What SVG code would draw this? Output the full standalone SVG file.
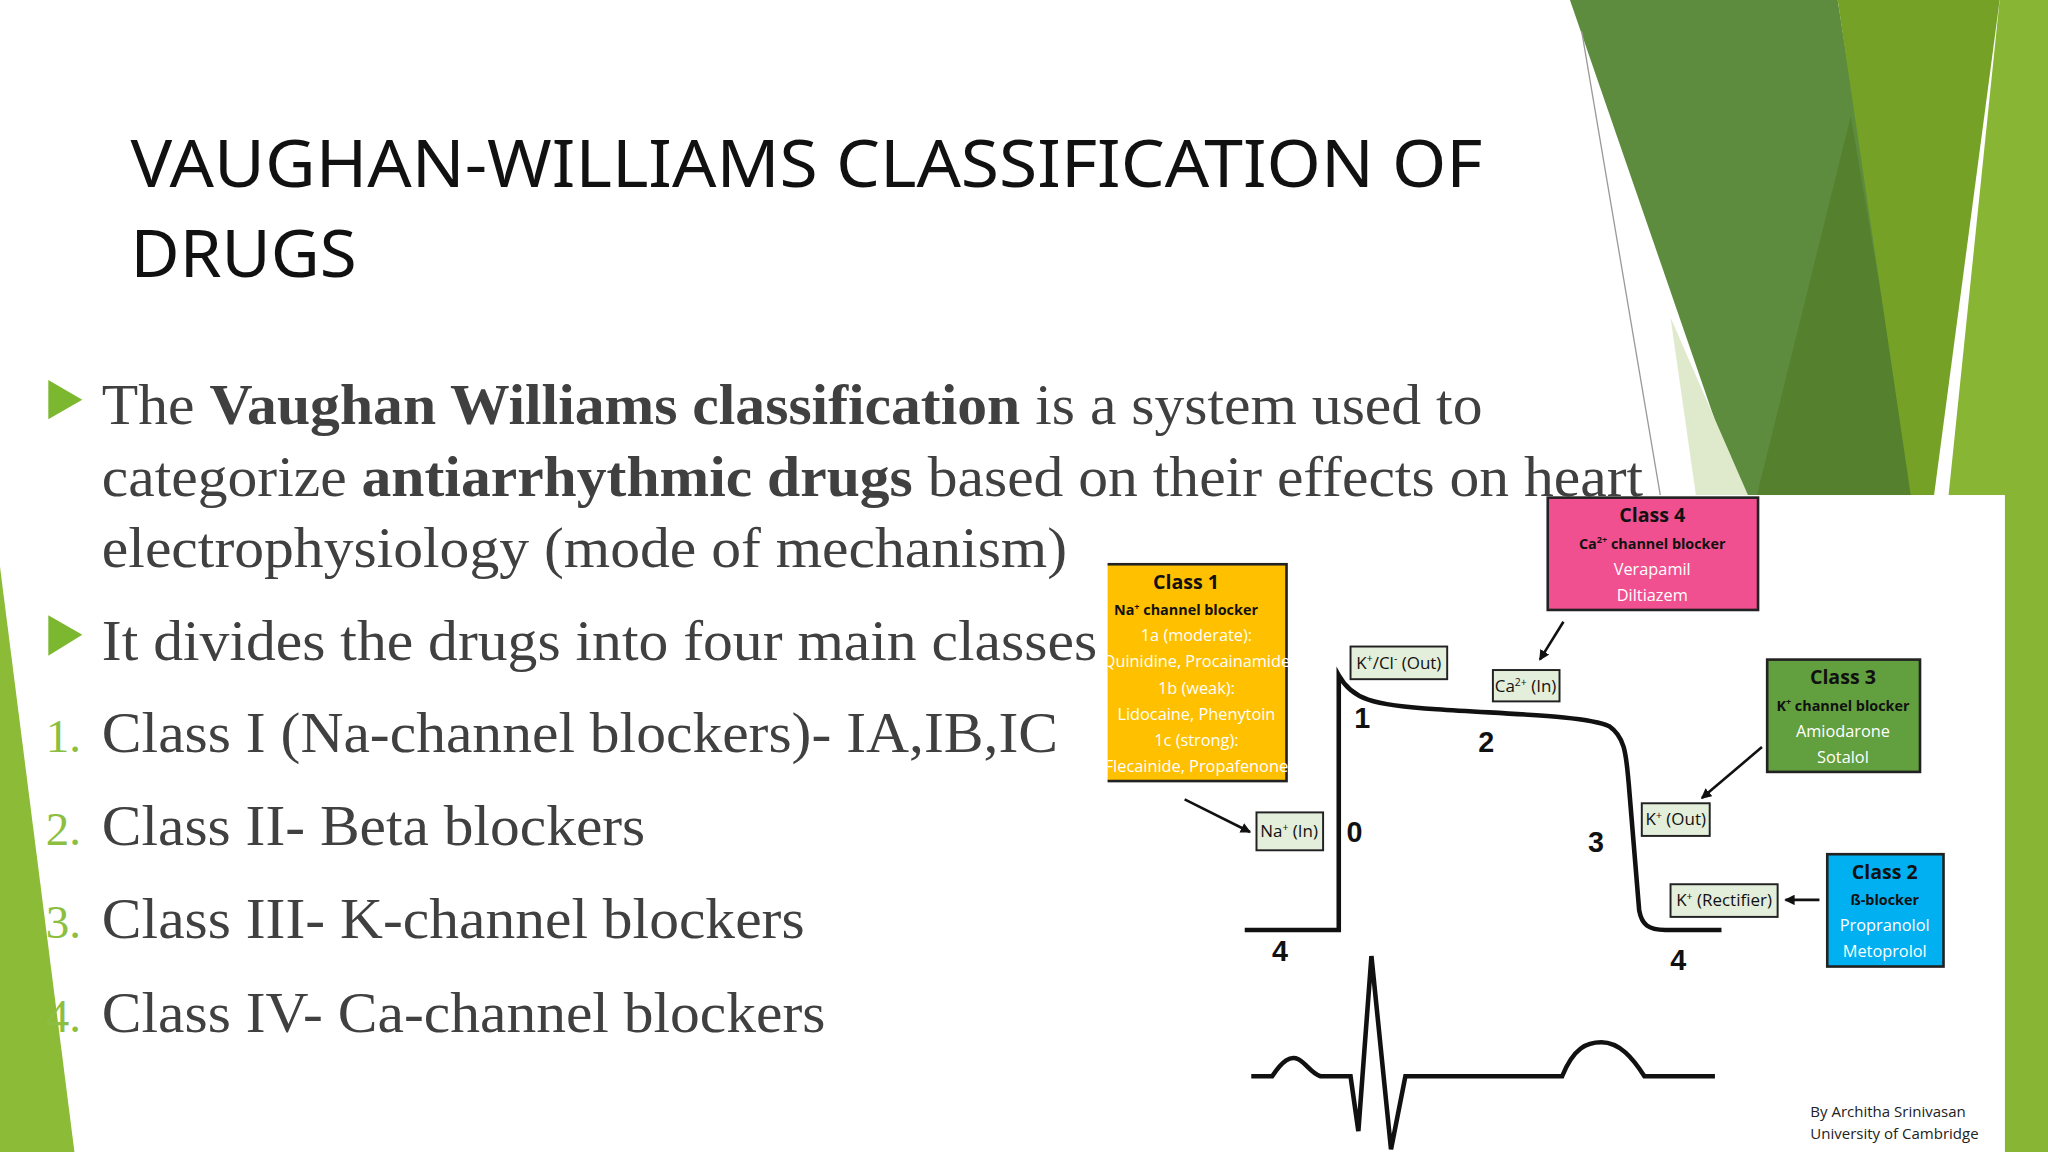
<svg xmlns="http://www.w3.org/2000/svg" width="2048" height="1152" viewBox="0 0 2048 1152">
<defs>
<style>
.body{font-family:"Liberation Serif","Times New Roman",serif;font-size:44px;fill:#404040}
.num{font-family:"Liberation Serif",serif;font-size:36px;fill:#8cbf3f}
.title{font-family:"Noto Sans","DejaVu Sans",sans-serif;font-size:50px;fill:#111}
.c{font-family:"Open Sans","Noto Sans",sans-serif;text-anchor:middle}
.ct{font-size:15px;font-weight:bold;fill:#111}
.cs{font-size:11px;font-weight:bold;fill:#111}
.cd{font-size:12.5px;fill:#fff}
.sb{fill:#e3eedb;stroke:#222;stroke-width:1.5}
.sl{font-family:"Open Sans","Noto Sans",sans-serif;font-size:13px;fill:#111;text-anchor:middle}
.ph{font-family:"Liberation Sans",Arial,sans-serif;font-size:22px;font-weight:bold;fill:#111;text-anchor:middle}
.ln{fill:none;stroke:#111;stroke-width:3.5}
.ar{stroke:#111;stroke-width:2;marker-end:url(#ah)}
</style>
<marker id="ah" markerWidth="8" markerHeight="8" refX="7" refY="4" orient="auto" markerUnits="userSpaceOnUse"><path d="M0,0 L8,4 L0,8 z" fill="#111"/></marker>
<clipPath id="clip1"><rect x="848" y="430" width="140" height="172"/></clipPath>
</defs>
<rect width="2048" height="1152" fill="#fff"/>
<g transform="scale(1.306122)">
<g id="background">
<polygon points="1202,0 1407,0 1470,400 1340,400" fill="#5e8c3e"/>
<polygon points="1417,89 1470,400 1340,400" fill="#55812f"/>
<polygon points="1407,0 1531,0 1478,400 1466,400" fill="#75a226"/>
<polygon points="1531,0 1568,0 1568,882 1440,882" fill="#88b534"/>
<polygon points="1279,243 1340,383 1299,383" fill="#dfe9cc"/>
<line x1="1211" y1="24" x2="1273" y2="390" stroke="#999" stroke-width="1"/>
<polygon points="0,434 57,882 0,882" fill="#8cbb38"/>
</g>
<rect id="panel" x="848" y="379" width="687" height="503" fill="#fff"/>
<g id="title">
<text class="title" x="100" y="143" textLength="1035" lengthAdjust="spacingAndGlyphs">VAUGHAN-WILLIAMS CLASSIFICATION OF</text>
<text class="title" x="100" y="212" textLength="173" lengthAdjust="spacingAndGlyphs">DRUGS</text>
</g>
<g id="bullets">
<polygon points="37,291 63,306 37,321" fill="#7cb82f"/>
<polygon points="37,471 63,486 37,502" fill="#7cb82f"/>
<text class="body" x="78" y="325" textLength="1057" lengthAdjust="spacingAndGlyphs">The <tspan font-weight="bold">Vaughan Williams classification</tspan> is a system used to</text>
<text class="body" x="78" y="380" textLength="1180" lengthAdjust="spacingAndGlyphs">categorize <tspan font-weight="bold">antiarrhythmic drugs</tspan> based on their effects on heart</text>
<text class="body" x="78" y="434" textLength="739" lengthAdjust="spacingAndGlyphs">electrophysiology (mode of mechanism)</text>
<text class="body" x="78" y="505" textLength="762" lengthAdjust="spacingAndGlyphs">It divides the drugs into four main classes</text>
<text class="num" x="35" y="576">1.</text>
<text class="body" x="78" y="576" textLength="732" lengthAdjust="spacingAndGlyphs">Class I (Na-channel blockers)- IA,IB,IC</text>
<text class="num" x="35" y="647">2.</text>
<text class="body" x="78" y="647" textLength="416" lengthAdjust="spacingAndGlyphs">Class II- Beta blockers</text>
<text class="num" x="35" y="718">3.</text>
<text class="body" x="78" y="718" textLength="538" lengthAdjust="spacingAndGlyphs">Class III- K-channel blockers</text>
<text class="num" x="35" y="790">4.</text>
<text class="body" x="78" y="790" textLength="554" lengthAdjust="spacingAndGlyphs">Class IV- Ca-channel blockers</text>
</g>
<g id="class1" clip-path="url(#clip1)">
<rect x="846" y="432" width="139" height="166" fill="#ffc000" stroke="#222" stroke-width="2"/>
<text class="c ct" x="908" y="451">Class 1</text>
<text class="c cs" x="908" y="471">Na<tspan font-size="7" dy="-4">+</tspan><tspan dy="4"> channel blocker</tspan></text>
<text class="c cd" x="916" y="491">1a (moderate):</text>
<text class="c cd" x="916" y="511">Quinidine, Procainamide</text>
<text class="c cd" x="916" y="531">1b (weak):</text>
<text class="c cd" x="916" y="551">Lidocaine, Phenytoin</text>
<text class="c cd" x="916" y="571">1c (strong):</text>
<text class="c cd" x="916" y="591">Flecainide, Propafenone</text>
</g>
<g id="class4">
<rect x="1185" y="381" width="161" height="86" fill="#f0508f" stroke="#222" stroke-width="2"/>
<text class="c ct" x="1265" y="400">Class 4</text>
<text class="c cs" x="1265" y="420">Ca<tspan font-size="7" dy="-4">2+</tspan><tspan dy="4"> channel blocker</tspan></text>
<text class="c cd" x="1265" y="440">Verapamil</text>
<text class="c cd" x="1265" y="460">Diltiazem</text>
</g>
<g id="class3">
<rect x="1353" y="505" width="117" height="86" fill="#62a03f" stroke="#222" stroke-width="2"/>
<text class="c ct" x="1411" y="524">Class 3</text>
<text class="c cs" x="1411" y="544">K<tspan font-size="7" dy="-4">+</tspan><tspan dy="4"> channel blocker</tspan></text>
<text class="c cd" x="1411" y="564">Amiodarone</text>
<text class="c cd" x="1411" y="584">Sotalol</text>
</g>
<g id="class2">
<rect x="1399" y="654" width="89" height="86" fill="#00b0f0" stroke="#222" stroke-width="2"/>
<text class="c ct" x="1443" y="673">Class 2</text>
<text class="c cs" x="1443" y="693">ß-blocker</text>
<text class="c cd" x="1443" y="713">Propranolol</text>
<text class="c cd" x="1443" y="733">Metoprolol</text>
</g>
<g id="kcl"><rect class="sb" x="1034" y="495" width="74" height="25"/><text class="sl" x="1071" y="512">K<tspan font-size="8" dy="-5">+</tspan><tspan dy="5">/Cl</tspan><tspan font-size="8" dy="-5">-</tspan><tspan dy="5"> (Out)</tspan></text></g>
<g id="ca"><rect class="sb" x="1143" y="513" width="51" height="24"/><text class="sl" x="1168" y="530">Ca<tspan font-size="8" dy="-5">2+</tspan><tspan dy="5"> (In)</tspan></text></g>
<g id="na"><rect class="sb" x="962" y="622" width="51" height="29"/><text class="sl" x="987" y="641">Na<tspan font-size="8" dy="-5">+</tspan><tspan dy="5"> (In)</tspan></text></g>
<g id="kout"><rect class="sb" x="1257" y="615" width="52" height="25"/><text class="sl" x="1283" y="632">K<tspan font-size="8" dy="-5">+</tspan><tspan dy="5"> (Out)</tspan></text></g>
<g id="krect"><rect class="sb" x="1279" y="677" width="82" height="25"/><text class="sl" x="1320" y="694">K<tspan font-size="8" dy="-5">+</tspan><tspan dy="5"> (Rectifier)</tspan></text></g>
<g id="connectors">
<line class="ar" x1="907" y1="612" x2="957" y2="637"/>
<line class="ar" x1="1197" y1="476" x2="1179" y2="505"/>
<line class="ar" x1="1349" y1="572" x2="1303" y2="611"/>
<line class="ar" x1="1393" y1="689" x2="1367" y2="689"/>
</g>
<g id="curves">
<path class="ln" d="M953,712 L1025,712 L1025,517 C1035,535 1050,540 1100,543 C1160,547 1215,548 1232,556 C1245,565 1245,580 1247,600 L1255,697 C1257,708 1262,712 1275,712 L1318,712"/>
<path class="ln" d="M958,824 L974,824 C982,812 988,808 994,811 C1000,814 1004,822 1011,824 L1034,824 L1040,866 L1050,732 L1065,880 L1076,824 L1196,824 C1205,802 1215,798 1226,798 C1240,798 1250,810 1259,824 L1313,824"/>
</g>
<g id="phases">
<text class="ph" x="980" y="736">4</text>
<text class="ph" x="1037" y="645">0</text>
<text class="ph" x="1043" y="557">1</text>
<text class="ph" x="1138" y="576">2</text>
<text class="ph" x="1222" y="652">3</text>
<text class="ph" x="1285" y="743">4</text>
</g>
<g id="credit">
<text x="1386" y="855" font-family="Open Sans,Noto Sans,sans-serif" font-size="11.5" fill="#222">By Architha Srinivasan</text>
<text x="1386" y="872" font-family="Open Sans,Noto Sans,sans-serif" font-size="11.5" fill="#222">University of Cambridge</text>
</g>
</g>
</svg>
